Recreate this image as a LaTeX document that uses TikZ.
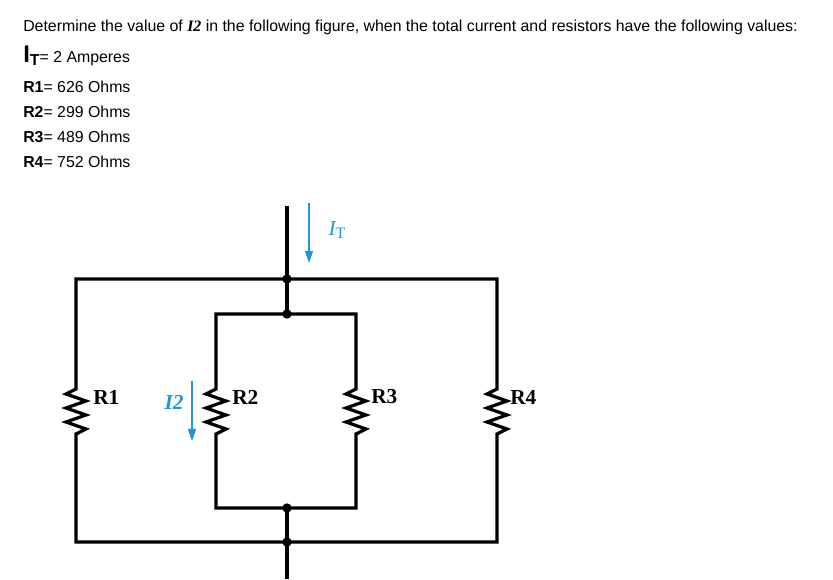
\documentclass[tikz,border=0pt]{standalone}
\usepackage{fontspec}
\setmainfont{Liberation Sans}
\newfontfamily\serif{Liberation Serif}
\usetikzlibrary{arrows.meta}
\definecolor{cblue}{RGB}{30,150,220}
\tikzset{
  wire/.style={line width=2.4pt, line cap=rect},
  dotn/.style={circle, fill=black, inner sep=0pt, minimum size=7pt},
  txt/.style={anchor=west, inner sep=0pt, font=\fontsize{11.9}{13}\selectfont},
  rlab/.style={anchor=west, inner sep=0pt, font=\serif\bfseries\fontsize{16}{17}\selectfont},
  curr/.style={cblue, line width=0.9pt, -{Triangle[length=9pt,width=6pt]}},
  clab/.style={cblue, inner sep=0pt, font=\serif\itshape\fontsize{16}{17}\selectfont}
}
\newcommand{\myres}[1]{-- ++(0,3) -- ++(-10,5) -- ++(20,7) -- ++(-20,7) -- ++(20,7) -- ++(-20,7) -- ++(20,7) -- ++(-10,5) -- ++(0,3)}
\begin{document}
\begin{tikzpicture}[x=0.75pt,y=-0.75pt]
\useasboundingbox (0,0) rectangle (833,580);
\node[txt] (q) at (23,27) {Determine the value of {\serif\bfseries\itshape I2} in the following figure, when the total current and resistors have the following values:};
\node[txt] (it) at (23,56) {{\fontsize{18}{18}\selectfont\bfseries I}\raisebox{-0.35ex}{\bfseries T}= 2 Amperes};
\node[txt] (v1) at (23,87) {\textbf{R1}= 626 Ohms};
\node[txt] (v2) at (23,112) {\textbf{R2}= 299 Ohms};
\node[txt] (v3) at (23,137) {\textbf{R3}= 489 Ohms};
\node[txt] (v4) at (23,162) {\textbf{R4}= 752 Ohms};
% junctions
\coordinate (top) at (287,208);
\node[dotn] (j1) at (287,279) {};
\node[dotn] (j2) at (287,314) {};
\node[dotn] (j3) at (287,508) {};
\node[dotn] (j4) at (287,542) {};
\coordinate (bot) at (287,577);
\draw[wire] (top) -- (j1.center) -- (j2.center);
\draw[wire] (j1.center) -- (76,279) -- (76,386) \myres{} -- (76,542) -- (j4.center);
\draw[wire] (j1.center) -- (497,279) -- (497,386) \myres{} -- (497,542) -- (j4.center);
\draw[wire] (j2.center) -- (216,314) -- (216,386) \myres{} -- (216,508) -- (j3.center);
\draw[wire] (j2.center) -- (356,314) -- (356,386) \myres{} -- (356,508) -- (j3.center);
\draw[wire] (j3.center) -- (j4.center) -- (bot);
% labels
\node[rlab] (l1) at (93,397) {R1};
\node[rlab] (l2) at (232,397) {R2};
\node[rlab] (l3) at (371,397) {R3};
\node[rlab] (l4) at (510,397) {R4};
% currents
\coordinate (ita) at (309,203);
\coordinate (itb) at (309,263);
\draw[curr] (ita) -- (itb);
\node[clab] (itl) at (337,230) {I\raisebox{-0.4ex}{\upshape\fontsize{12}{12}\selectfont T}};
\coordinate (i2a) at (192,381);
\coordinate (i2b) at (192,441);
\draw[curr] (i2a) -- (i2b);
\node[clab] (i2l) at (174,402) {\bfseries I2};
\end{tikzpicture}
\end{document}
